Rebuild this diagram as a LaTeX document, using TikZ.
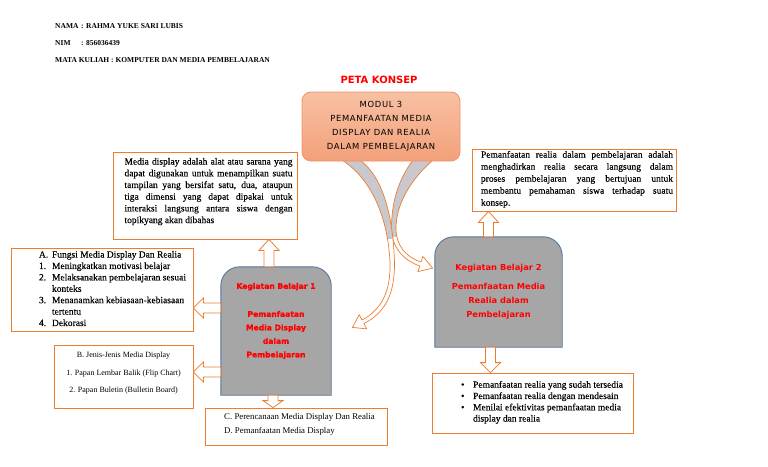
\documentclass[tikz,border=0pt]{standalone}
\usepackage{fontspec}
\setmainfont{Liberation Serif}
\newfontfamily\modfont[LetterSpace=8]{DejaVu Sans}
\newfontfamily\boldsans{DejaVu Sans Bold}
\newfontfamily\kbheavy[FakeBold=1.2]{DejaVu Sans Bold}
\newfontfamily\bodyfont[FakeBold=0.25]{Liberation Serif}
\usetikzlibrary{calc,backgrounds}
\definecolor{obrd}{RGB}{237,125,49}
\definecolor{salmonA}{RGB}{248,192,163}
\definecolor{salmonB}{RGB}{243,160,122}
\definecolor{salmonL}{RGB}{236,148,108}
\definecolor{kbgray}{RGB}{166,166,166}
\definecolor{kbline}{RGB}{84,118,158}
\definecolor{bandgray}{RGB}{200,200,205}
\definecolor{kbred}{RGB}{255,0,0}
\tikzset{
  hdr/.style={anchor=west, inner sep=0pt, font=\bfseries\fontsize{7.5}{9}\selectfont},
  titlestyle/.style={inner sep=0pt, text=kbred, font=\boldsans\fontsize{10}{12}\selectfont},
  modbox/.style={draw=salmonL, top color=salmonA, bottom color=salmonB, line width=0.8pt, rounded corners=9pt, inner sep=0pt, align=center},
  txtbox/.style={draw=obrd, fill=white, line width=0.8pt, inner sep=0pt},
  kbnode/.style={inner sep=0pt, text=kbred},
  kbshape/.style={draw=kbline, fill=kbgray, line width=0.9pt},
  blkarrow/.style={draw=obrd, fill=white, line width=0.8pt, line join=miter},
  band/.style={draw=obrd, line width=0.7pt, line join=round},
}
% block arrow: [head length]{from}{to}
\newcommand\blk[3][10]{%
  \path[blkarrow] let \p1=(#2), \p2=(#3),
    \n1={atan2(\y2-\y1,\x2-\x1)}, \n2={veclen(\x2-\x1,\y2-\y1)} in
    [shift={(\p1)}, rotate=\n1]
    (0pt,-5pt) -- ({(\n2-#1)*1pt},-5pt) -- ({(\n2-#1)*1pt},-10pt) -- ({\n2*1pt},0pt)
    -- ({(\n2-#1)*1pt},10pt) -- ({(\n2-#1)*1pt},5pt) -- (0pt,5pt) -- cycle;}
\def\bandL{(342,160) .. controls (373,180) and (388,220) .. (390,262)
  .. controls (391,292) and (381,310) .. (362,320) -- (359.3,314.7) -- (352.4,327.4)
  -- (366.7,328.9) -- (363.9,323.5) .. controls (385,313) and (395,294) .. (394.5,262)
  .. controls (393,218) and (384,178) .. (360,160) -- cycle}
\def\bandR{(433,160) .. controls (410,180) and (396,205) .. (396,228)
  .. controls (396,246) and (406,257) .. (421,262) -- (422.9,256.4) -- (432.7,268.1)
  -- (417.9,271.6) -- (419.7,266) .. controls (403,260) and (391.5,247) .. (391.5,228)
  .. controls (391.5,203) and (398,180) .. (413,160) -- cycle}
\begin{document}
\begin{tikzpicture}[x=1pt, y=-1pt]
\useasboundingbox (0,0) rectangle (768,466);

% header
\node[hdr] (nama) at (55,26) {\makebox[26pt][l]{NAMA}: RAHMA YUKE SARI LUBIS};
\node[hdr] (nim) at (55,43) {\makebox[26pt][l]{NIM}: 856036439};
\node[hdr] (mk) at (55,60) {MATA KULIAH : KOMPUTER DAN MEDIA PEMBELAJARAN};
\node[titlestyle] (peta) at (379,80) {PETA KONSEP};

% curved arrows
\fill[white] \bandR;
\begin{scope}\clip (300,150) rectangle (470,236); \fill[bandgray] \bandR; \end{scope}
\draw[band] \bandR;
\fill[white] \bandL;
\begin{scope}\clip (300,150) rectangle (470,238); \fill[bandgray] \bandL; \end{scope}
\draw[band] \bandL;

% module box
\node[modbox, minimum width=158pt, minimum height=69pt,
      font=\modfont\fontsize{8.4}{14}\selectfont] (modul) at (381,126.5)
  {MODUL 3\\PEMANFAATAN MEDIA\\DISPLAY DAN REALIA\\DALAM PEMBELAJARAN};

% description box left
\node[txtbox, minimum width=184pt, minimum height=87pt] (mdesc) at (205,195.5)
 {\parbox[c][87pt][t]{184pt}{\bodyfont\fontsize{9.5}{11.7}\selectfont\vspace*{6pt}%
  \hbox{\hskip7pt\hbox to 168pt{Media display adalah alat atau sarana yang}}
  \hbox{\hskip7pt\hbox to 168pt{dapat digunakan untuk menampilkan suatu}}
  \hbox{\hskip7pt\hbox to 168pt{tampilan yang bersifat satu, dua, ataupun}}
  \hbox{\hskip7pt\hbox to 168pt{tiga dimensi yang dapat dipakai untuk}}
  \hbox{\hskip7pt\hbox to 168pt{interaksi langsung antara siswa dengan}}
  \hbox{\hskip7pt topikyang akan dibahas}}};

% description box right
\node[txtbox, minimum width=204pt, minimum height=62pt] (rdesc) at (574,180)
 {\parbox[c][62pt][t]{204pt}{\bodyfont\fontsize{9.5}{12}\selectfont\vspace*{2pt}%
  \hbox{\hskip6pt\hbox to 192pt{Pemanfaatan realia dalam pembelajaran adalah}}
  \hbox{\hskip6pt\hbox to 192pt{menghadirkan realia secara langsung dalam}}
  \hbox{\hskip6pt\hbox to 192pt{proses pembelajaran yang bertujuan untuk}}
  \hbox{\hskip6pt\hbox to 192pt{membantu pemahaman siswa terhadap suatu}}
  \hbox{\hskip6pt konsep.}}};

% box A
\node[txtbox, minimum width=182pt, minimum height=83pt] (fungsi) at (102,290)
 {\parbox[c][83pt][t]{182pt}{\bodyfont\fontsize{9.5}{11.4}\selectfont\vspace*{2.5pt}%
  \hbox{\hskip21pt\makebox[13pt][l]{A.}Fungsi Media Display Dan Realia}
  \hbox{\hskip21pt\makebox[13pt][l]{1.}Meningkatkan motivasi belajar}
  \hbox{\hskip21pt\makebox[13pt][l]{2.}Melaksanakan pembelajaran sesuai}
  \hbox{\hskip34pt konteks}
  \hbox{\hskip21pt\makebox[13pt][l]{3.}Menanamkan kebiasaan-kebiasaan}
  \hbox{\hskip34pt tertentu}
  \hbox{\hskip21pt\makebox[13pt][l]{4.}Dekorasi}}};

% box B
\node[txtbox, minimum width=139pt, minimum height=63pt] (jenis) at (123.5,376.5)
 {\parbox[c][63pt][t]{139pt}{\centering\fontsize{8}{17.5}\selectfont\vspace*{7pt}%
  B. Jenis-Jenis Media Display\par
  1. Papan Lembar Balik (Flip Chart)\par
  2. Papan Buletin (Bulletin Board)\par}};

% box C/D
\node[txtbox, minimum width=182pt, minimum height=37pt] (cd) at (296,426.5)
 {\parbox[c][37pt][t]{182pt}{\fontsize{8.8}{14}\selectfont\vspace*{5pt}%
  \hbox{\hskip7pt C. Perencanaan Media Display Dan Realia}
  \hbox{\hskip7pt D. Pemanfaatan Media Display}}};

% evaluation box
\node[txtbox, minimum width=201pt, minimum height=60pt] (evalbox) at (532.5,403)
 {\parbox[c][60pt][t]{201pt}{\bodyfont\fontsize{9.5}{11.3}\selectfont\vspace*{8pt}%
  \hbox{\hskip19pt\makebox[12pt][l]{•}Pemanfaatan realia yang sudah tersedia}
  \hbox{\hskip19pt\makebox[12pt][l]{•}Pemanfaatan realia dengan mendesain}
  \hbox{\hskip19pt\makebox[12pt][l]{•}Menilai efektivitas pemanfaatan media}
  \hbox{\hskip31pt display dan realia}}};

% kegiatan belajar boxes
\node[kbnode, minimum width=110pt, minimum height=128pt] (kb1) at (276,331)
 {\parbox[c][128pt][t]{110pt}{\centering\kbheavy\fontsize{7.6}{13.5}\selectfont\vspace*{16pt}%
  Kegiatan Belajar 1\par\vspace{14.5pt}%
  Pemanfaatan\par Media Display\par dalam\par Pembelajaran\par}};
\node[kbnode, minimum width=127pt, minimum height=110pt] (kb2) at (498.5,292)
 {\parbox[c][110pt][t]{127pt}{\centering\boldsans\fontsize{8.3}{14}\selectfont\vspace*{27pt}%
  Kegiatan Belajar 2\par\vspace{5pt}%
  Pemanfaatan Media\par Realia dalam\par Pembelajaran\par}};

\begin{scope}[on background layer]
  \fill[white] (0,0) rectangle (768,466);
  \foreach \k in {kb1,kb2}
    \draw[kbshape] (\k.south west) -- ([yshift=-19pt]\k.north west)
      arc[start angle=180, end angle=90, radius=19pt]
      -- ([xshift=-19pt]\k.north east)
      arc[start angle=90, end angle=0, radius=19pt]
      -- (\k.south east) -- cycle;
\end{scope}

% block arrows
\blk[11]{[xshift=-7pt]kb1.north}{[xshift=-7pt]kb1.north |- mdesc.south}
\blk[10]{[yshift=23pt]kb1.west}{[yshift=23pt]kb1.west -| fungsi.east}
\blk[10]{[yshift=-41pt]kb1.west}{[yshift=-41pt]kb1.west -| jenis.east}
\blk[7]{[xshift=-3pt]kb1.south}{[xshift=-3pt]kb1.south |- cd.north}
\blk[11]{[xshift=-10pt]kb2.north}{[xshift=-10pt]kb2.north |- rdesc.south}
\blk[10]{[xshift=-8pt]kb2.south}{[xshift=-8pt]kb2.south |- evalbox.north}
\end{tikzpicture}
\end{document}
